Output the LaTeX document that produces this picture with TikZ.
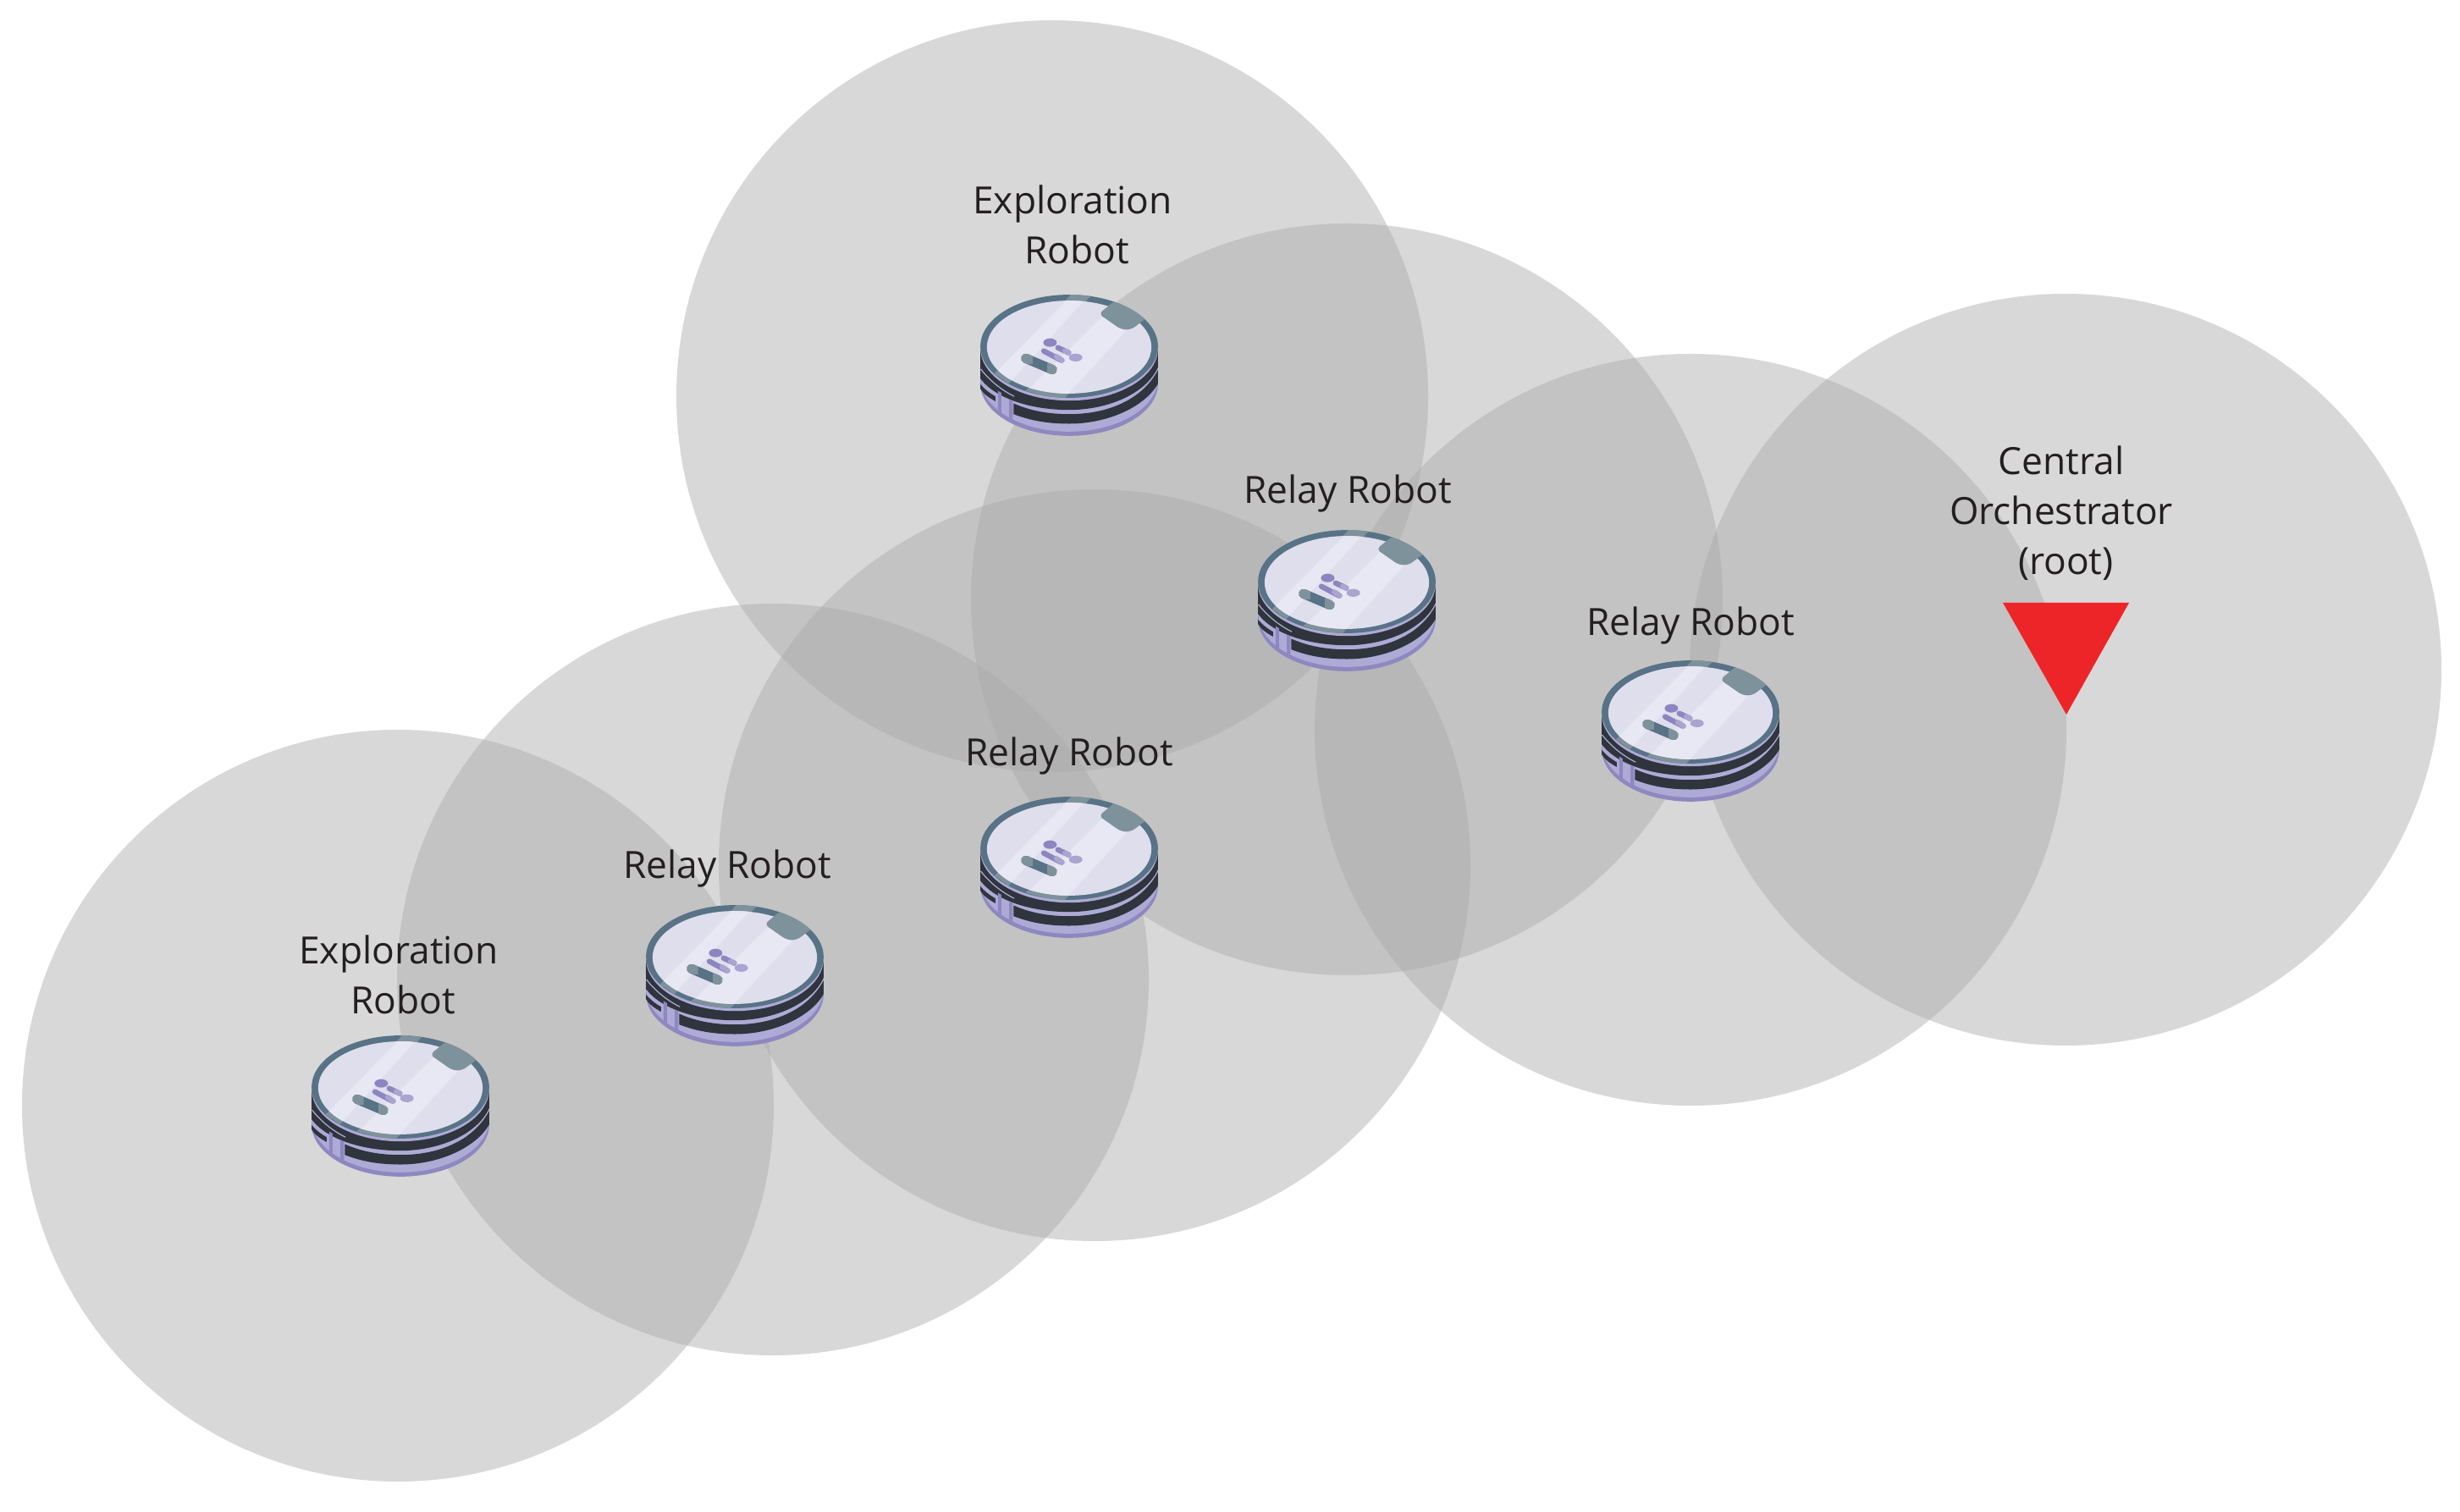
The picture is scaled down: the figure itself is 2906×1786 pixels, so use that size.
\documentclass[tikz,border=0pt]{standalone}
\usepackage{fontspec}
\setmainfont{Open Sans}
\definecolor{rimc}{HTML}{587286}
\definecolor{glass}{HTML}{7E929B}
\definecolor{topc}{HTML}{DFDEEC}
\definecolor{toplight}{HTML}{E8E8F4}
\definecolor{purpd}{HTML}{8F87BF}
\definecolor{purpl}{HTML}{AEAAD6}
\definecolor{darkb}{HTML}{2F343D}
\definecolor{iconp}{HTML}{8C85BF}
\definecolor{iconl}{HTML}{A9A4D0}
\definecolor{txt}{HTML}{231F20}
\definecolor{disc}{HTML}{ABABAB}
\definecolor{rootred}{HTML}{EE2528}
\tikzset{
  rangedisc/.style={fill=disc,fill opacity=0.46,draw=none},
  lbl/.style={font=\fontsize{12.6pt}{16.8pt}\selectfont,text=txt,align=center,inner sep=0pt},
  robot/.pic={
    \begin{scope}[x=0.003333cm,y=-0.003333cm,shift={(-430,-237)}]
      % base
      \fill[purpd] (115,240) rectangle (745,370);
      \fill[purpd] (430,370) ellipse[x radius=315,y radius=185];
      \fill[purpl] (115,240) rectangle (745,350);
      \fill[purpl] (430,350) ellipse[x radius=315,y radius=190];
      % dark bands
      \fill[darkb] (115,240) -- (745,240) -- (745,312) .. controls (700,410) and (560,463) .. (430,463) .. controls (300,463) and (170,425) .. (115,352) -- cycle;
      \fill[darkb] (115,372) .. controls (130,390) and (150,405) .. (168,415) -- (168,432) .. controls (145,420) and (125,405) .. (115,388) -- cycle;
      \fill[darkb] (233,440) .. controls (300,470) and (370,478) .. (430,478) .. controls (570,478) and (690,425) .. (745,322) -- (745,370) .. controls (700,450) and (570,512) .. (430,512) .. controls (350,512) and (290,500) .. (233,478) -- cycle;
      \draw[purpl,line width=0.35pt] (116,318) .. controls (145,355) and (185,390) .. (235,415);
      \fill[purpd] (177,395) -- (189,402) -- (189,482) -- (177,476) -- cycle;
      \fill[purpd] (217,425) -- (230,432) -- (230,498) -- (217,492) -- cycle;
      % rim and top
      \fill[purpl] (430,245) ellipse[x radius=315,y radius=185];
      \fill[rimc] (430,237) ellipse[x radius=315,y radius=183];
      \begin{scope}
        \clip (430,237) ellipse[x radius=315,y radius=183];
        \fill[glass] (440,50) -- (515,50) -- (215,370) -- (165,335) -- cycle;
        \fill[glass] (600,70) -- (700,130) -- (405,430) -- (275,395) -- cycle;
      \end{scope}
      \fill[topc] (430,240) ellipse[x radius=292,y radius=165];
      \begin{scope}
        \clip (430,240) ellipse[x radius=292,y radius=165];
        \fill[toplight] (445,50) -- (505,50) -- (215,370) -- (165,335) -- cycle;
        \fill[toplight] (590,90) -- (680,130) -- (405,430) -- (280,395) -- cycle;
      \end{scope}
      % top-right sensor
      \begin{scope}
        \clip (430,237) ellipse[x radius=315,y radius=183];
        \fill[glass,rounded corners=1.6pt] (535,122) -- (605,65) -- (720,125) -- (650,178) -- (615,178) -- cycle;
      \end{scope}
      % controls
      \draw[rimc,line width=3.2pt,line cap=round] (276,280) -- (370,320);
      \begin{scope}
        \clip (250,250) rectangle (300,300);
        \draw[glass,line width=3.2pt,line cap=round] (276,280) -- (320,299);
      \end{scope}
      \begin{scope}
        \clip (352,300) rectangle (400,350);
        \draw[glass,line width=3.2pt,line cap=round] (330,303) -- (370,320);
      \end{scope}
      \fill[iconp] (362,224) ellipse[x radius=24,y radius=15];
      \fill[iconl] (453,277) ellipse[x radius=24,y radius=14];
      \draw[iconp,line width=1.8pt,line cap=round] (340,254) -- (402,287);
      \draw[iconl,line width=1.8pt,line cap=round] (385,274) -- (405,287);
      \draw[iconp,line width=1.8pt,line cap=round] (390,242) -- (428,260);
      \draw[iconl,line width=1.8pt,line cap=round] (415,254) -- (428,260);
    \end{scope}
  }
}
\begin{document}
\begin{tikzpicture}[x=0.01cm,y=-0.01cm]
\useasboundingbox (0,0) rectangle (2906,1786);
\fill[white] (0,0) rectangle (2906,1786);
\foreach \cx/\cy in {470/1306,913/1157,1293/1022,1243/468,1591/708,1997/862,2440/791}
  \fill[rangedisc] (\cx,\cy) circle[radius=444];
\fill[rootred] (2366,712) -- (2515,712) -- (2441,844) -- cycle;
\pic at (1263,409) {robot};
\pic at (1591,687) {robot};
\pic at (1997,841) {robot};
\pic at (1263,1002) {robot};
\pic at (868,1130) {robot};
\pic at (473,1284) {robot};
\node[lbl] (explA) at (1267,265) {Exploration\\\hspace*{3pt}Robot};
\node[lbl] (relE) at (1592,583) {Relay Robot};
\node[lbl] (relF) at (1997,739) {Relay Robot};
\node[lbl] (relC) at (1263,893) {Relay Robot};
\node[lbl] (relB) at (859,1026) {Relay Robot};
\node[lbl] (explB) at (471,1151) {Exploration\\\hspace*{3pt}Robot};
\node[lbl] (orch) at (2435,606) {Central\\Orchestrator\\\hspace*{3pt}(root)};
\end{tikzpicture}
\end{document}
